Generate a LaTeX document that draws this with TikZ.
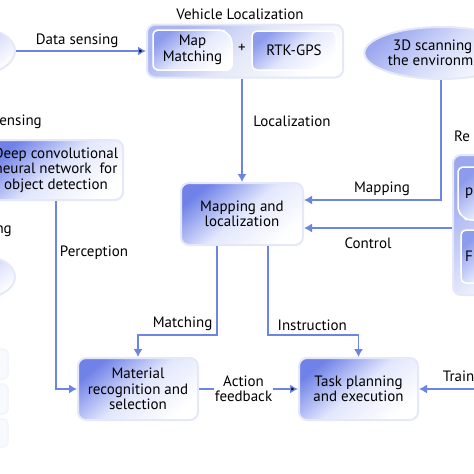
\documentclass[tikz,border=0pt]{standalone}
\usepackage{fontspec}
\setmainfont{PT Sans}
\usepackage{tikz}
\usetikzlibrary{arrows.meta, shapes, shapes.misc, positioning, calc}
\definecolor{flowblue}{RGB}{108,132,226}
\definecolor{boxtop}{RGB}{112,130,232}
\definecolor{boxmid}{RGB}{226,231,252}
\definecolor{boxedge}{RGB}{228,232,248}
\definecolor{faintblue}{RGB}{243,245,253}

\begin{document}
\begin{tikzpicture}[x=1pt, y=-1pt, font=\fontsize{15}{15.5}\selectfont,
    box/.style={rectangle, rounded corners=8pt, draw=boxedge, line width=2pt, top color=boxtop, bottom color=white, middle color=boxmid, shading angle=40, align=center, inner sep=2pt},
    inbox/.style={rectangle, rounded corners=5pt, draw=white, line width=1.5pt, top color=boxtop!80, bottom color=white, middle color=boxmid, shading angle=40, align=center, inner sep=2pt},
    blob/.style={ellipse, draw=boxedge, line width=2pt, top color=boxtop!70, bottom color=white, middle color=boxmid!90!boxtop, shading angle=40, align=center, inner sep=1pt},
    faint/.style={rectangle, rounded corners=5pt, draw=faintblue, fill=faintblue!50, line width=1.5pt},
    lbl/.style={inner sep=1pt, align=center},
    line/.style={draw=flowblue, line width=1.3pt, -{Latex[length=8pt, width=9pt]}}]
    \useasboundingbox (0,0) rectangle (474,474);
    \clip (0,0) rectangle (474,474);

    % sources on the left
    \node[blob, minimum width=74pt, minimum height=46pt] (sense1) at (-22,51) {};
    \node[blob, minimum width=74pt, minimum height=44pt] (sense2) at (-22,277) {};
    \node[lbl, anchor=east] (senselbl) at (43,122) {Sensing};
    \node[lbl, anchor=east] (nglbl) at (13,231) {ng};
    \node[faint, minimum width=48pt, minimum height=30pt] (f1) at (-16,364) {};
    \node[faint, minimum width=48pt, minimum height=30pt] (f2) at (-16,399) {};
    \node[faint, minimum width=48pt, minimum height=28pt] (f3) at (-16,433) {};

    % vehicle localization
    \node[box, minimum width=196pt, minimum height=53pt, top color=boxtop!60, middle color=boxedge, shading angle=40] (vloc) at (245,51) {};
    \node[inbox, chamfered rectangle, chamfered rectangle corners=north east, chamfered rectangle xsep=5pt, minimum width=79pt, minimum height=40pt] (mapm) at (192.5,50) {Map\\Matching};
    \node[lbl] (plus) at (242,48) {+};
    \node[inbox, minimum width=84pt, minimum height=39pt] (rtk) at (294,50.5) {RTK-GPS};
    \node[lbl] (vltitle) at (240,14) {Vehicle Localization};

    % 3D scanning
    \node[blob, minimum width=126pt, minimum height=52pt] (scan) at (441,53) {3D scanning of\\the environment};

    % right-hand block
    \node[lbl, anchor=west] (rllbl) at (453,136) {Re};
    \node[box, minimum width=87pt, minimum height=140pt, top color=boxtop!70, shading angle=40] (rl) at (496.5,225) {};
    \node[inbox, chamfered rectangle, chamfered rectangle corners=south west, chamfered rectangle xsep=5pt, minimum width=80pt, minimum height=53pt, text width=72pt, align=left] (rl1) at (501,193.5) {p};
    \node[inbox, minimum width=80pt, minimum height=53pt, text width=72pt, align=left] (rl2) at (501,256.5) {F\\[18pt]};

    % main boxes
    \node[box, minimum width=122pt, minimum height=62pt] (mapl) at (242,214) {Mapping and\\localization};
    \node[box, minimum width=134pt, minimum height=60pt] (cnn) at (56,170) {Deep convolutional\\neural network \ for\\object detection};
    \node[box, minimum width=120pt, minimum height=62pt] (mat) at (138,389) {Material\\recognition and\\selection};
    \node[box, minimum width=119pt, minimum height=62pt] (task) at (358.5,389) {Task planning\\and execution};

    \coordinate (map in) at ([yshift=14pt]mapl.east);
    \coordinate (ctl in) at ([yshift=-14pt]mapl.east);
    \coordinate (train src) at (490,389);

    % connectors
    \path[line] (sense1) edge node[lbl, above, pos=0.47, yshift=2pt] {Data sensing} (vloc);
    \draw[line] (vloc.south -| mapl.north) -- (mapl.north);
    \node[lbl] (loclbl) at (292,121) {Localization};
    \draw[line] (scan.south) |- (map in);
    \node[lbl] (maplbl) at (382,189) {Mapping};
    \draw[line] (rl.west |- ctl in) -- (ctl in);
    \node[lbl] (ctllbl) at (368,243) {Control};
    \draw[line] (cnn.south) |- (mat.west);
    \node[lbl] (perclbl) at (94,253) {Perception};
    \draw[line] ([xshift=-25pt]mapl.south) -- ++(0,89) node[lbl, above left, xshift=-3pt, yshift=3pt] {Matching} -| (mat.north);
    \draw[line] ([xshift=26pt]mapl.south) -- ++(0,89) node[lbl, above right, xshift=8pt, yshift=3pt] {Instruction} -| (task.north);
    \path[line] (mat) edge node[lbl, fill=white, pos=0.45] {Action\\feedback} (task);
    \draw[line] (train src) -- (task.east) node[lbl, above, pos=0.3, yshift=3pt] {Training};
\end{tikzpicture}
\end{document}
